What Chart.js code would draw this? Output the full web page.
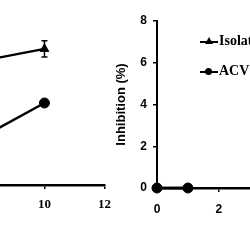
<!DOCTYPE html>
<html>
<head>
<meta charset="utf-8">
<script src="https://cdn.jsdelivr.net/npm/chart.js@4"></script>
<style>
  html, body { margin: 0; padding: 0; width: 250px; height: 250px; overflow: hidden; background: #fff; }
  body { position: relative; }
  canvas { position: absolute; top: 0; }
  #chartLeft { left: -267px; }
  #chartRight { left: 108px; }
  .leg { position: absolute; left: 200px; font: bold 14px "Liberation Serif", serif; white-space: nowrap; color: #000; height: 16px; line-height: 16px; }
  .leg-line { display: inline-block; position: relative; width: 18px; height: 2px; background: #000; vertical-align: middle; margin-right: 1px; }
  .leg-tri { position: absolute; left: 5px; top: -4px; width: 0; height: 0; border-left: 4px solid transparent; border-right: 4px solid transparent; border-bottom: 7px solid #000; }
  .leg-dot { position: absolute; left: 5px; top: -3px; width: 7px; height: 7px; border-radius: 50%; background: #000; }
</style>
</head>
<body>
<canvas id="chartLeft" width="386" height="215"></canvas>
<canvas id="chartRight" width="437" height="218"></canvas>
<div class="leg" style="top:33px"><span class="leg-line"><span class="leg-tri"></span></span>Isolate</div>
<div class="leg" style="top:63px"><span class="leg-line"><span class="leg-dot"></span></span>ACV</div>
<script>
// left panel (only its right end is visible in the crop)
const leftX = [8, 10];
const leftIsolate = [76, 83];
const leftIsolateErr = [0, 5];
const leftAcv = [30, 50];
const leftAcvErr = [0, 0];
const leftXTicks = [0, 2, 4, 6, 8, 10, 12];

// right panel
const rightX = [0, 1];
const rightIsolate = [0, 0];
const rightAcv = [0, 0];
const rightXTicks = [0, 2, 4, 6, 8, 10, 12];
const rightYTicks = [0, 2, 4, 6, 8];

const pts = (xs, ys) => xs.map((x, i) => ({ x, y: ys[i] }));

const errorBars = {
  id: 'errorBars',
  afterDatasetsDraw(chart) {
    const { ctx, scales: { x, y } } = chart;
    ctx.save();
    ctx.strokeStyle = '#000';
    ctx.lineWidth = 1.5;
    chart.data.datasets.forEach(ds => {
      if (!ds.errors) return;
      ds.data.forEach((p, i) => {
        const e = ds.errors[i];
        if (!e) return;
        const px = x.getPixelForValue(p.x);
        const top = y.getPixelForValue(p.y + e), bot = y.getPixelForValue(p.y - e);
        ctx.beginPath();
        ctx.moveTo(px, top); ctx.lineTo(px, bot);
        ctx.moveTo(px - 3, top); ctx.lineTo(px + 3, top);
        ctx.moveTo(px - 3, bot); ctx.lineTo(px + 3, bot);
        ctx.stroke();
      });
    });
    ctx.restore();
  }
};

const axisX = (ticksList, font, pad) => ({
  type: 'linear', min: 0, max: 12,
  afterBuildTicks: s => { s.ticks = ticksList.map(v => ({ value: v })); },
  afterFit: s => { s.height = 30; },
  grid: { drawOnChartArea: false, drawTicks: true, tickLength: 4, color: '#000', lineWidth: 1.5 },
  border: { display: true, color: '#000', width: 2.5 },
  ticks: { color: '#000', font, padding: pad, maxRotation: 0 }
});

const line = (label, data, style, errors) => ({
  label, data, errors,
  borderColor: '#000', backgroundColor: '#000', borderWidth: 2.5,
  pointStyle: style, pointRadius: 5, pointBorderWidth: 1,
  tension: 0
});

new Chart(document.getElementById('chartLeft'), {
  type: 'line',
  data: {
    datasets: [
      line('Isolate', pts(leftX, leftIsolate), 'triangle', leftIsolateErr),
      line('ACV', pts(leftX, leftAcv), 'circle', leftAcvErr)
    ]
  },
  options: {
    responsive: false, animation: false,
    layout: { padding: { left: 10, right: 10, top: 21, bottom: 0 } },
    plugins: { legend: { display: false }, tooltip: { enabled: false } },
    scales: {
      x: axisX(leftXTicks, { family: 'Liberation Serif', size: 13, weight: 'bold' }, 8),
      y: { display: false, min: 0, max: 100 }
    }
  },
  plugins: [errorBars]
});

new Chart(document.getElementById('chartRight'), {
  type: 'line',
  data: {
    datasets: [
      line('Isolate', pts(rightX, rightIsolate), 'triangle'),
      line('ACV', pts(rightX, rightAcv), 'circle')
    ]
  },
  options: {
    responsive: false, animation: false,
    clip: false,
    layout: { padding: { left: 0, right: 10, top: 21, bottom: 0 } },
    plugins: { legend: { display: false }, tooltip: { enabled: false } },
    scales: {
      x: axisX(rightXTicks, { family: 'Liberation Sans', size: 12, weight: 'bold' }, 10),
      y: {
        min: 0, max: 8,
        afterBuildTicks: s => { s.ticks = rightYTicks.map(v => ({ value: v })); },
        afterFit: s => { s.width = 49; },
        grid: { drawOnChartArea: false, drawTicks: true, tickLength: 4, color: '#000', lineWidth: 1.5 },
        border: { display: true, color: '#000', width: 2 },
        ticks: { color: '#000', font: { family: 'Liberation Sans', size: 12, weight: 'bold' }, padding: 6 },
        title: {
          display: true, text: 'Inhibition (%)', color: '#000',
          font: { family: 'Liberation Sans', size: 13, weight: 'bold' },
          padding: { top: 6, bottom: 0 }
        }
      }
    }
  }
});
</script>
</body>
</html>
